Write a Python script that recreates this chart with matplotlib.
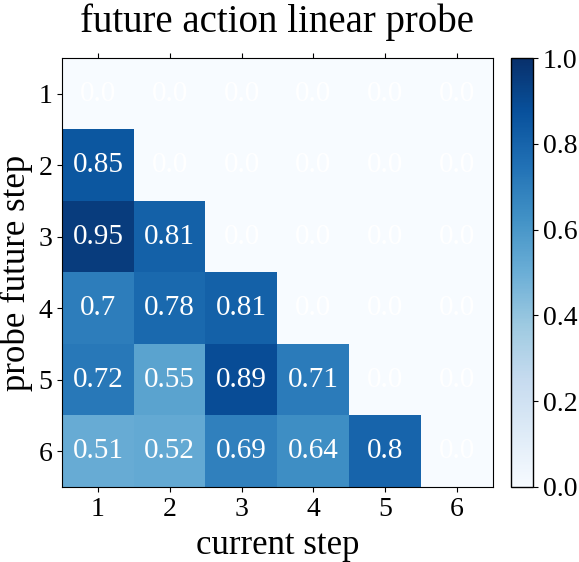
import matplotlib
matplotlib.use("Agg")
import matplotlib.pyplot as plt
import numpy as np

plt.rcParams['font.family'] = ['Liberation Serif', 'DejaVu Serif']

current_steps = [1, 2, 3, 4, 5, 6]
future_steps = [1, 2, 3, 4, 5, 6]
row1 = [0.0, 0.0, 0.0, 0.0, 0.0, 0.0]
row2 = [0.85, 0.0, 0.0, 0.0, 0.0, 0.0]
row3 = [0.95, 0.81, 0.0, 0.0, 0.0, 0.0]
row4 = [0.7, 0.78, 0.81, 0.0, 0.0, 0.0]
row5 = [0.72, 0.55, 0.89, 0.71, 0.0, 0.0]
row6 = [0.51, 0.52, 0.69, 0.64, 0.8, 0.0]
values = np.array([row1, row2, row3, row4, row5, row6])

fig = plt.figure(figsize=(5.79, 5.62), dpi=100)
ax = fig.add_axes([62/579, 1-487/562, (493-62)/579, (487-58)/562])
cax = fig.add_axes([511/579, 1-487/562, (533-511)/579, (487-58)/562])

im = ax.imshow(values, cmap='Blues', vmin=0, vmax=1, aspect='auto')
for i in range(values.shape[0]):
    for j in range(values.shape[1]):
        ax.text(j, i, f"{values[i, j]:.2g}" if values[i, j] != 0 else "0.0",
                ha='center', va='center', color='white', fontsize=21)

ax.set_xticks(range(len(current_steps)))
ax.set_xticklabels(current_steps, fontsize=20)
ax.set_yticks(range(len(future_steps)))
ax.set_yticklabels(future_steps, fontsize=20)
ax.tick_params(top=True, labeltop=False)
ax.set_xlabel('current step', fontsize=25, labelpad=5)
ax.set_ylabel('probe future step', fontsize=25, labelpad=4)
ax.set_title('future action linear probe', fontsize=28, pad=19)

cb = fig.colorbar(im, cax=cax)
cb.set_ticks([0.0, 0.2, 0.4, 0.6, 0.8, 1.0])
cb.ax.tick_params(labelsize=20)
cb.outline.set_linewidth(1)

fig.savefig('out.png', dpi=100)
